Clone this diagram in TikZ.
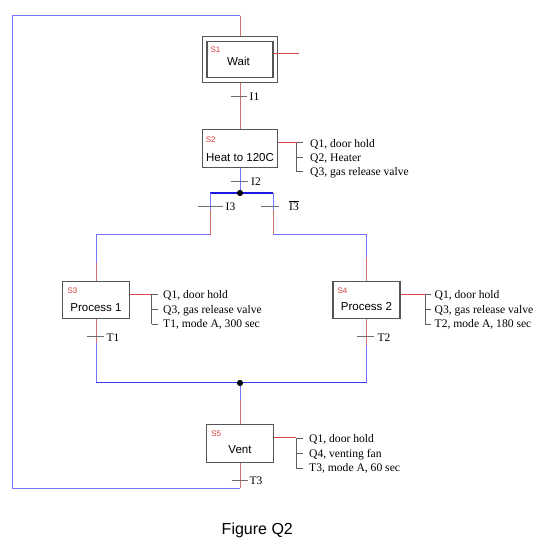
\documentclass[tikz,border=0pt]{standalone}
\usepackage{fontspec}
\setmainfont{Liberation Serif}
\newfontfamily\arialf{Liberation Sans}
\definecolor{lred}{RGB}{212,112,112}
\definecolor{ared}{RGB}{222,72,72}
\definecolor{lblue}{RGB}{115,115,255}
\definecolor{mblue}{RGB}{60,60,240}
\definecolor{dblue}{RGB}{25,25,225}
\definecolor{boxgray}{RGB}{85,85,85}
\definecolor{brgray}{RGB}{95,95,95}
\definecolor{tkgray}{RGB}{110,110,110}
\definecolor{lblred}{RGB}{215,60,60}
\tikzset{
 lnred/.style={draw=lred, line width=1pt},
 lnblue/.style={draw=lblue, line width=1pt},
 mdblue/.style={draw=mblue, line width=1pt},
 dkblue/.style={draw=dblue, line width=1.1pt},
 actred/.style={draw=ared, line width=1pt},
 brk/.style={draw=brgray, line width=0.9pt},
 trtick/.style={draw=tkgray, line width=0.9pt},
 stepbox/.style={draw=boxgray, line width=1.1pt, inner sep=0pt},
 steplbl/.style={font=\arialf\fontsize{8}{9}\selectfont, text=lblred, inner sep=0pt, text height=5.8pt, text depth=0pt, anchor=west},
 steptxt/.style={font=\arialf\fontsize{11.5}{13}\selectfont, inner sep=0pt, text height=8.2pt, text depth=0pt},
 acttxt/.style={font=\fontsize{11.6}{13}\selectfont, inner sep=0pt, text height=7.6pt, text depth=0pt, anchor=west},
 trlbl/.style={font=\fontsize{11.5}{13}\selectfont, inner sep=0pt, text height=7.6pt, text depth=0pt, anchor=west},
 captxt/.style={font=\arialf\fontsize{16}{19}\selectfont, inner sep=0pt, text height=11.5pt, text depth=0pt},
}
\begin{document}
\begin{tikzpicture}[x=1pt,y=-1pt]
\useasboundingbox[fill=white] (0,0) rectangle (552,545);

% coordinates
\coordinate (tl) at (12.5,15.7);
\coordinate (tr) at (240,15.7);
\coordinate (bl) at (12.5,488);
\coordinate (br) at (240,488);
\coordinate (d1) at (240,193);
\coordinate (d2) at (240,383);
\coordinate (jl) at (210,193);
\coordinate (jr) at (273.3,193);
\coordinate (jlm) at (210,210);
\coordinate (jrm) at (273.3,210);
\coordinate (jl2) at (210,235);
\coordinate (jr2) at (273.3,235);
\coordinate (bl3) at (96,235);
\coordinate (br4) at (366.5,235);
\coordinate (bl3m) at (96,263);
\coordinate (br4m) at (366.5,257);
\coordinate (s3m) at (96,343);
\coordinate (s4m) at (366.5,345);
\coordinate (bl3b) at (96,383);
\coordinate (br4b) at (366.5,383);
\coordinate (d2m) at (240,400);
\coordinate (s1r) at (272.7,53.3);
\coordinate (s1re) at (299,53.3);

% step boxes
\node[stepbox, minimum width=75.6pt, minimum height=45.6pt] (s1o) at (240,59.5) {};
\node[stepbox, fill=white, minimum width=66pt, minimum height=36pt] (s1) at (240,59.5) {};
\node[stepbox, minimum width=75.6pt, minimum height=38pt] (s2) at (240,148.3) {};
\node[stepbox, minimum width=67pt, minimum height=37.3pt] (s3) at (96,300.3) {};
\node[stepbox, minimum width=67pt, minimum height=37.3pt] (s4) at (366.5,300.3) {};
\node[stepbox, minimum width=66.7pt, minimum height=38pt] (s5) at (240,443.3) {};

% S1 output line
\draw[actred] (s1.east |- s1r) -- (s1re);

% step labels and texts
\node[steplbl] (l1) at ([shift={(4,9)}]s1.north west) {S1};
\node[steptxt] (t1) at (238.5,61.7) {Wait};
\node[steplbl] (l2) at ([shift={(4,10.7)}]s2.north west) {S2};
\node[steptxt] (t2) at (240,157) {Heat to 120C};
\node[steplbl] (l3) at ([shift={(5.5,9.3)}]s3.north west) {S3};
\node[steptxt] (t3) at (96,307) {Process 1};
\node[steplbl] (l4) at ([shift={(5,9.3)}]s4.north west) {S4};
\node[steptxt] (t4) at (366.5,306) {Process 2};
\node[steplbl] (l5) at ([shift={(5,9.7)}]s5.north west) {S5};
\node[steptxt] (t5) at (240,449.3) {Vent};

% links
\draw[lnblue] (tr) -- (tl) -- (bl) -- (br);
\draw[lnred] (tr) -- (s1o.north);
\draw[lnred] (s5.south) -- (br);
\draw[lnred] (s1o.south) -- (s2.north);
\draw[lnblue] (s2.south) -- (d1);
\draw[dkblue] (jl) -- (jr);
\draw[lnblue] (jl) -- (jlm);
\draw[lnred] (jlm) -- (jl2);
\draw[lnblue] (jr) -- (jrm);
\draw[lnred] (jrm) -- (jr2);
\draw[lnblue] (jl2) -- (bl3) -- (bl3m);
\draw[lnred] (bl3m) -- (s3.north);
\draw[lnblue] (jr2) -- (br4) -- (br4m);
\draw[lnred] (br4m) -- (s4.north);
\draw[lnred] (s3.south) -- (s3m);
\draw[lnblue] (s3m) -- (bl3b);
\draw[lnred] (s4.south) -- (s4m);
\draw[lnblue] (s4m) -- (br4b);
\draw[mdblue] (bl3b) -- (br4b);
\draw[lnblue] (d2) -- (d2m);
\draw[lnred] (d2m) -- (s5.north);
\fill (d1) circle (3.1pt);
\fill (d2) circle (3.1pt);

% transitions
\draw[trtick] (230.7,96) -- (247.3,96);
\node[trlbl] (i1) at (249.5,97) {I1};
\draw[trtick] (230.5,181) -- (247.5,181);
\node[trlbl] (i2) at (251,182) {I2};
\draw[trtick] (197.5,206) -- (223,206);
\node[trlbl] (i3) at (225.5,206.7) {I3};
\draw[trtick] (261,206) -- (278.5,206);
\node[trlbl] (i3n) at (289,206.7) {$\overline{\mbox{I3}}$};
\draw[trtick] (87.3,336.7) -- (104,336.7);
\node[trlbl] (tt1) at (106.5,338) {T1};
\draw[trtick] (357.3,336.7) -- (374,336.7);
\node[trlbl] (tt2) at (377.5,338) {T2};
\draw[trtick] (231.7,480) -- (248,480);
\node[trlbl] (tt3) at (249.5,481) {T3};

% actions S2
\coordinate (a2) at (296.5,142.7);
\draw[actred] (s2.east |- a2) -- (a2);
\draw[brk] (a2) -- (296.5,171.7);
\draw[brk] (296.5,142.7) -- (303,142.7);
\draw[brk] (296.5,157) -- (303,157);
\draw[brk] (296.5,171.7) -- (303,171.7);
\node[acttxt] (q21) at (310,143.3) {Q1, door hold};
\node[acttxt] (q22) at (310,157.3) {Q2, Heater};
\node[acttxt] (q23) at (310,171.7) {Q3, gas release valve};

% actions S3
\coordinate (a3) at (151.7,294.3);
\draw[actred] (s3.east |- a3) -- (a3);
\draw[brk] (a3) -- (151.7,324);
\draw[brk] (151.7,294.3) -- (157.5,294.3);
\draw[brk] (151.7,309.3) -- (157.5,309.3);
\draw[brk] (151.7,324) -- (157.5,324);
\node[acttxt] (q31) at (163,294.3) {Q1, door hold};
\node[acttxt] (q32) at (163,309.3) {Q3, gas release valve};
\node[acttxt] (q33) at (163,324) {T1, mode A, 300 sec};

% actions S4
\coordinate (a4) at (425,294.3);
\draw[actred] (s4.east |- a4) -- (a4);
\draw[brk] (a4) -- (425,324);
\draw[brk] (425,294.3) -- (431,294.3);
\draw[brk] (425,309.3) -- (431,309.3);
\draw[brk] (425,324) -- (431,324);
\node[acttxt] (q41) at (434.5,294.3) {Q1, door hold};
\node[acttxt] (q42) at (434.5,309.3) {Q3, gas release valve};
\node[acttxt] (q43) at (434.5,324) {T2, mode A, 180 sec};

% actions S5
\coordinate (a5) at (296,438);
\draw[actred] (s5.east |- a5) -- (a5);
\draw[brk] (a5) -- (296,468);
\draw[brk] (296,438) -- (302.5,438);
\draw[brk] (296,453.5) -- (302.5,453.5);
\draw[brk] (296,468) -- (302.5,468);
\node[acttxt] (q51) at (309,438.5) {Q1, door hold};
\node[acttxt] (q52) at (309,453.5) {Q4, venting fan};
\node[acttxt] (q53) at (309,468) {T3, mode A, 60 sec};

% caption
\node[captxt] (cap) at (257.3,528.3) {Figure Q2};
\end{tikzpicture}
\end{document}
